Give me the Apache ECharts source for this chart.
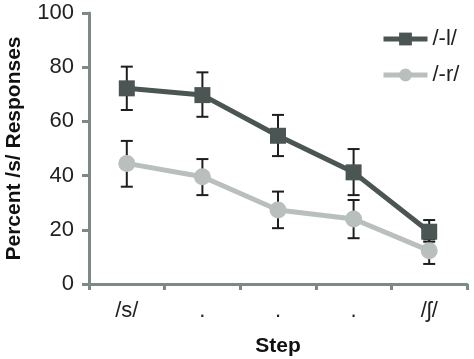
<!DOCTYPE html>
<html><head><meta charset="utf-8">
<script src="https://cdn.jsdelivr.net/npm/echarts@6/dist/echarts.min.js"></script>
<style>html,body{margin:0;padding:0;background:#fff}#c{width:474px;height:359px}</style>
</head><body><div id="c"></div>
<script>
const categories = ['/s/', '.', '.', '.', '/ʃ/'];
const yTicks = [0, 20, 40, 60, 80, 100];
const lMean = [72.2, 69.7, 54.7, 41.2, 19.3];
const lUpper = [80.2, 78.1, 62.4, 49.8, 23.6];
const lLower = [64.2, 61.7, 47.2, 32.8, 15.6];
const rMean = [44.5, 39.6, 27.3, 24.0, 12.3];
const rUpper = [52.8, 46.1, 34.1, 31.0, 16.5];
const rLower = [35.9, 32.8, 20.6, 16.9, 7.4];

const darkC = '#4b5553', lightC = '#b9bfbd', axisC = '#7d8987', errC = '#1e1e1e';
const font = '"Liberation Sans", Arial, sans-serif';

function errSeries(name, lo, hi) {
  return {
    type: 'custom', name: name + '_err', z: 1, silent: true,
    data: lo.map((v, i) => [i, v, hi[i]]),
    renderItem: function (params, api) {
      const x = api.coord([api.value(0), api.value(1)])[0];
      const yl = api.coord([api.value(0), api.value(1)])[1];
      const yh = api.coord([api.value(0), api.value(2)])[1];
      const w = 6;
      const st = { stroke: errC, lineWidth: 2 };
      return { type: 'group', children: [
        { type: 'line', shape: { x1: x, y1: yl, x2: x, y2: yh }, style: st },
        { type: 'line', shape: { x1: x - w, y1: yl, x2: x + w, y2: yl }, style: st },
        { type: 'line', shape: { x1: x - w, y1: yh, x2: x + w, y2: yh }, style: st }
      ]};
    }
  };
}

const chart = echarts.init(document.getElementById('c'), null, { renderer: 'canvas' });
chart.setOption({
  animation: false,
  backgroundColor: '#fff',
  grid: { left: 89, right: 7, top: 13, bottom: 75, containLabel: false, outerBoundsMode: 'none' },
  legend: {
    orient: 'vertical', left: 376, top: 23, itemGap: 14,
    itemWidth: 44, itemHeight: 16,
    lineStyle: { width: 5 },
    textStyle: { fontFamily: font, fontSize: 22, color: '#222' },
    data: [{ name: '/-l/' }, { name: '/-r/' }]
  },
  xAxis: {
    type: 'category', data: categories, boundaryGap: true,
    name: 'Step', nameLocation: 'middle', nameGap: 52,
    nameTextStyle: { fontFamily: font, fontSize: 21, fontWeight: 'bold', color: '#111' },
    axisLine: { lineStyle: { color: axisC, width: 3 } },
    axisTick: { show: true, length: 6, lineStyle: { color: axisC, width: 3 } },
    axisLabel: { fontFamily: font, fontSize: 22, color: '#222', margin: 16 }
  },
  yAxis: {
    type: 'value', min: 0, max: 100, interval: 20,
    name: 'Percent /s/ Responses', nameLocation: 'middle', nameGap: 64,
    nameTextStyle: { fontFamily: font, fontSize: 21, fontWeight: 'bold', color: '#111' },
    axisLine: { show: true, lineStyle: { color: axisC, width: 3 } },
    axisTick: { show: true, length: 7, lineStyle: { color: axisC, width: 3 } },
    axisLabel: { fontFamily: font, fontSize: 22, color: '#222', margin: 15,
      formatter: v => yTicks.includes(v) ? String(v) : '' },
    splitLine: { show: false }
  },
  series: [
    errSeries('l', lLower, lUpper),
    errSeries('r', rLower, rUpper),
    { name: '/-l/', type: 'line', data: lMean, z: 3, symbol: 'rect', symbolSize: 16,
      lineStyle: { color: darkC, width: 5 }, itemStyle: { color: darkC } },
    { name: '/-r/', type: 'line', data: rMean, z: 2, symbol: 'circle', symbolSize: 17,
      lineStyle: { color: lightC, width: 5 }, itemStyle: { color: lightC } }
  ]
});
</script></body></html>
